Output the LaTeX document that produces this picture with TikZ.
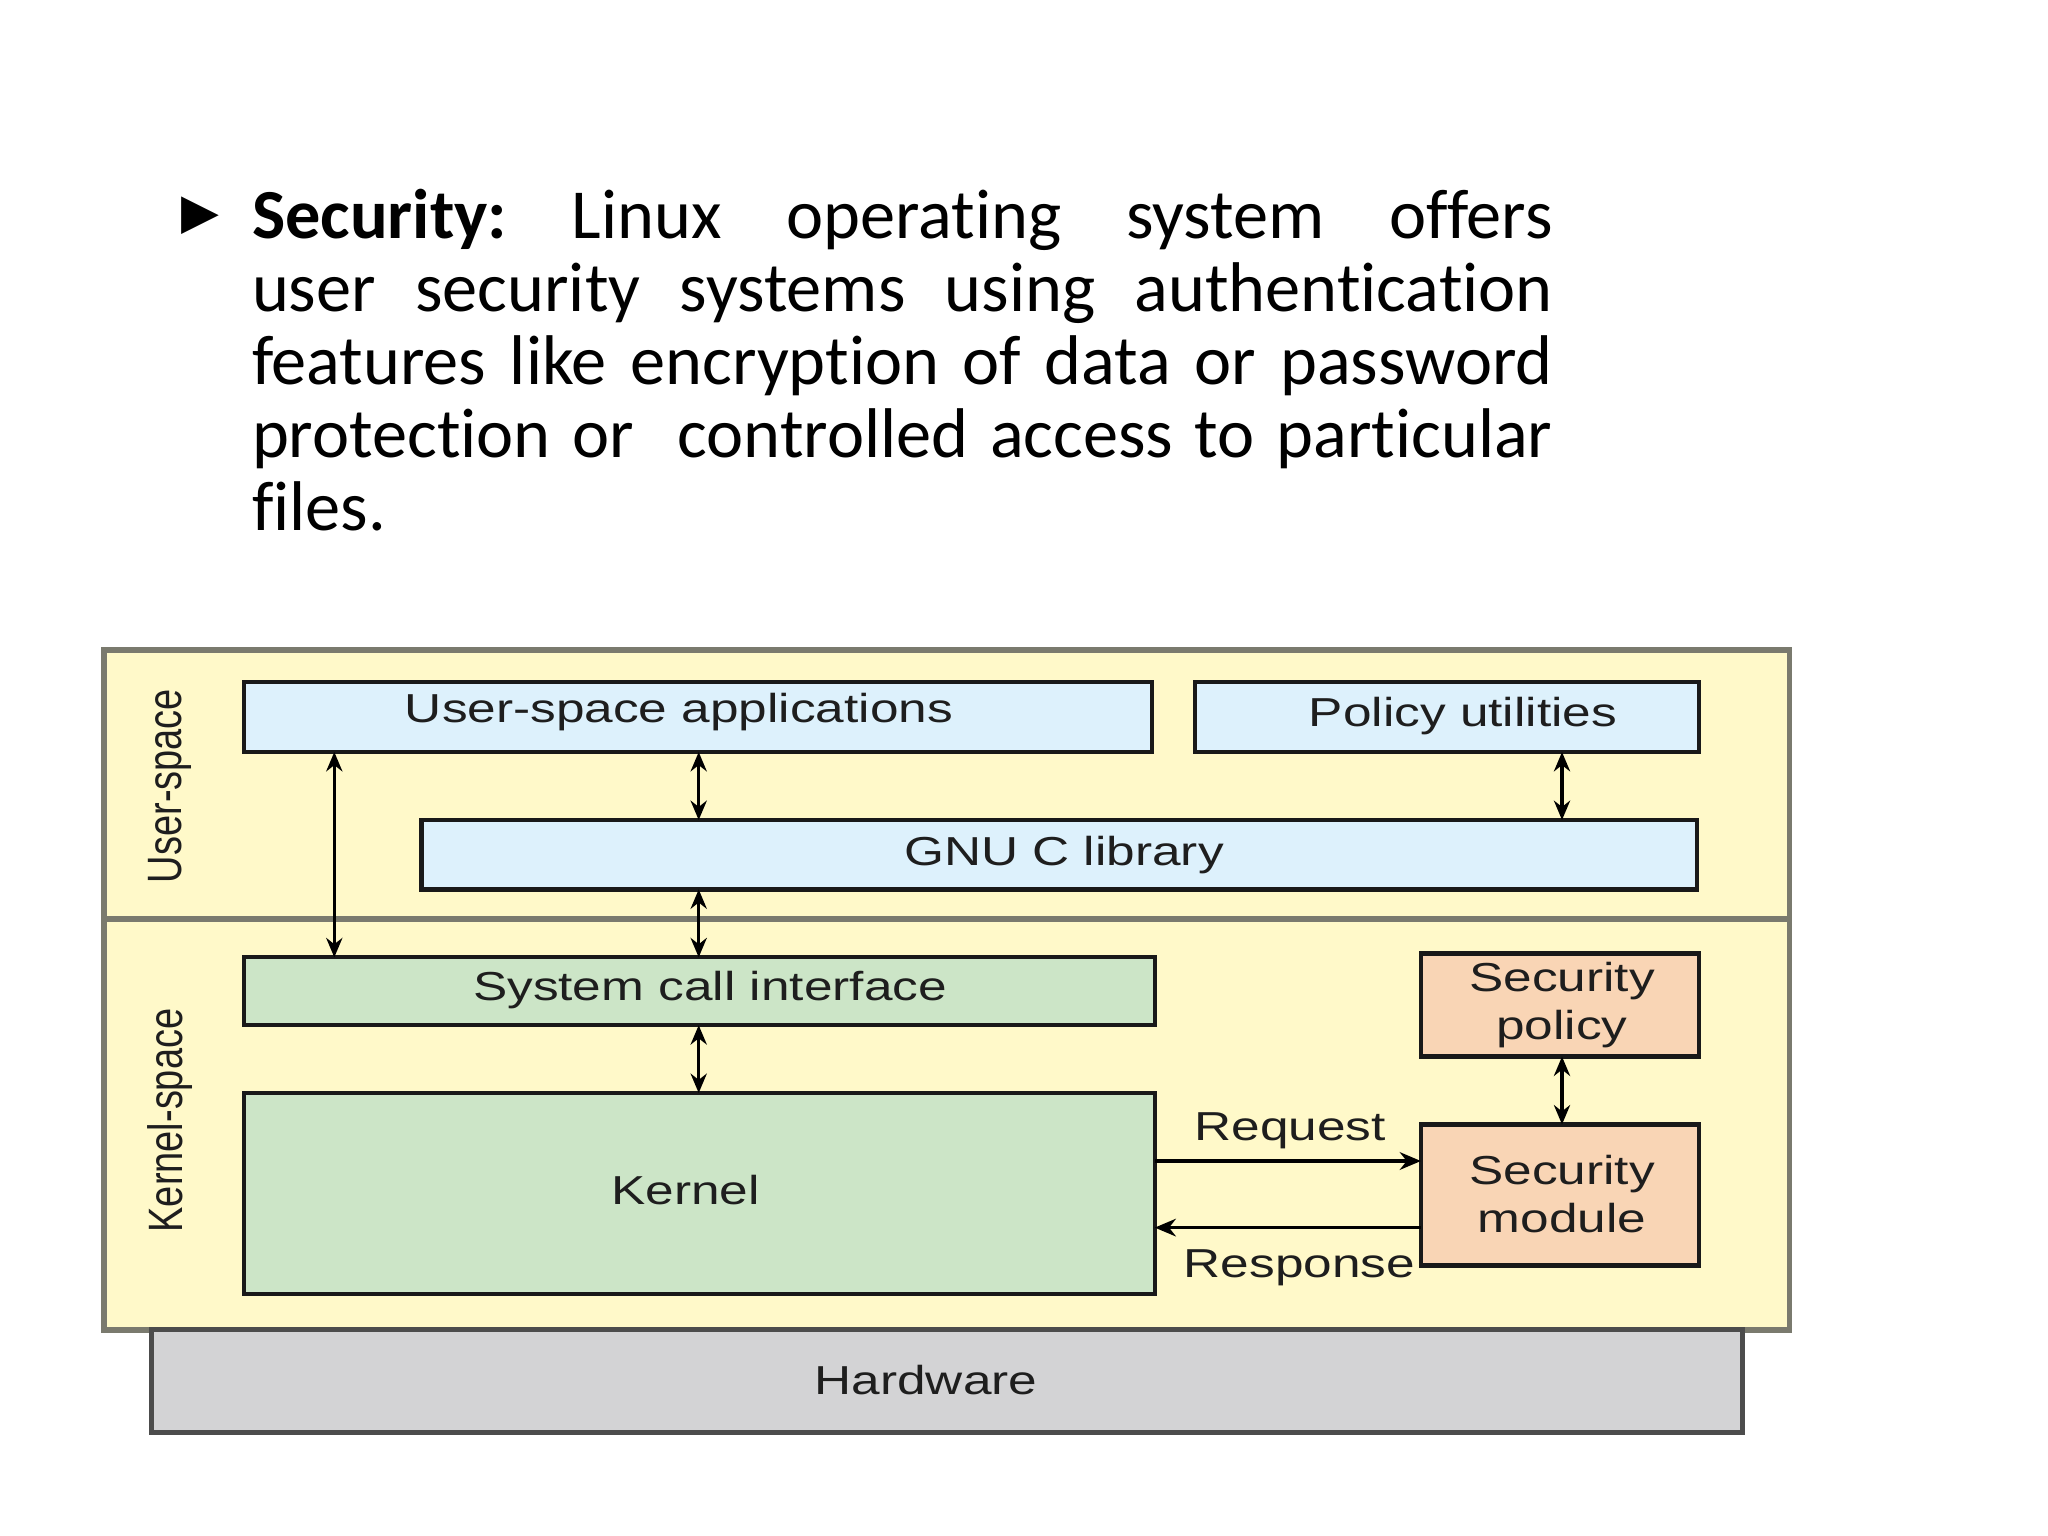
\documentclass[tikz,border=0pt]{standalone}
\usepackage{fontspec}
\setmainfont{Carlito}[Ligatures=NoCommon]
\newfontfamily\arialf{Liberation Sans}
\newfontfamily\dejavu{DejaVu Sans}
\usetikzlibrary{arrows.meta}
\definecolor{bgyellow}{HTML}{FFF9C9}
\definecolor{ublue}{HTML}{DDF1FC}
\definecolor{kgreen}{HTML}{CCE5C7}
\definecolor{speach}{HTML}{F9D5B5}
\definecolor{hwgray}{HTML}{D3D3D5}
\definecolor{framegray}{HTML}{7A7A6E}
\definecolor{txtgray}{HTML}{1E1E1E}
\tikzset{
  para/.style={font=\fontsize{20pt}{24pt}\selectfont, inner sep=0pt, outer sep=0pt, text=black, anchor=base west},
  box/.style={draw=black!90, line width=1.25pt, inner sep=0pt, outer sep=0pt},
  lbl/.style={font=\arialf\fontsize{11.5pt}{13.4pt}\selectfont, text=txtgray, inner sep=0pt, align=center},
  dbl/.style={{Stealth[length=5.5pt,width=4.6pt]}-{Stealth[length=5.5pt,width=4.6pt]}, line width=1pt, black},
  sgl/.style={-{Stealth[length=6pt,width=5pt]}, line width=1pt, black}
}
\newcommand{\wide}[1]{\scalebox{1.27}[1]{#1}}
\newcommand{\tall}[1]{\scalebox{1}[1.27]{#1}}
\begin{document}
\frenchspacing
\begin{tikzpicture}[x=0.01cm,y=-0.01cm]
\useasboundingbox (0,0) rectangle (2048,1536);
% bullet text
\node[font=\dejavu\fontsize{14pt}{14pt}\selectfont, inner sep=0pt] (bul) at (200,216) {▶};
\node[para] (l1) at (252,238) {\makebox[13cm][s]{\textbf{Security:} Linux operating system offers}};
\node[para] (l2) at (252,311.1) {\makebox[13cm][s]{user security systems using authentication}};
\node[para] (l3) at (252,384.2) {\makebox[13cm][s]{features like encryption of data or password}};
\node[para] (l4) at (252,457.3) {\makebox[13cm][s]{protection or\ \ controlled access to particular}};
\node[para] (l5) at (252,530.4) {files.};
% outer frame
\node[draw=framegray, line width=1.7pt, fill=bgyellow, inner sep=0pt, outer sep=0pt, minimum width=168.45mm, minimum height=67.91mm] (outer) at (946.75,989.95) {};
\draw[framegray, line width=1.7pt] (outer.west |- 0,919.4) coordinate (dl) -- (outer.east |- dl) coordinate (dr);
% hardware
\node[draw=black!70, line width=1.4pt, fill=hwgray, inner sep=0pt, outer sep=0pt, minimum width=159.05mm, minimum height=10.32mm] (hw) at (946.75,1381.1) {};
% user-space boxes
\node[box, fill=ublue, minimum width=90.8mm, minimum height=7.0mm] (ua) at (698,717) {};
\node[box, fill=ublue, minimum width=50.4mm, minimum height=7.0mm] (pu) at (1447,717) {};
\node[box, fill=ublue, minimum width=127.45mm, minimum height=6.94mm] (gnu) at (1059.25,854.7) {};
% kernel-space boxes
\node[box, fill=kgreen, minimum width=91.05mm, minimum height=6.79mm] (sc) at (699.25,991.25) {};
\node[box, fill=kgreen, minimum width=91.05mm, minimum height=20.12mm] (k) at (699.25,1193.6) {};
\node[box, fill=speach, minimum width=27.8mm, minimum height=10.31mm] (sp) at (1560,1005) {};
\node[box, fill=speach, minimum width=27.8mm, minimum height=14.11mm] (sm) at (1560,1195) {};
% labels
\node[lbl] (tua) at (679,712) {\wide{User-space applications}};
\node[lbl] (tpu) at (1463,716) {\wide{Policy utilities}};
\node[lbl] (tgnu) at (1064,855) {\wide{GNU C library}};
\node[lbl] (tsc) at (710,990) {\wide{System call interface}};
\node[lbl] (tk) at (685.6,1190) {\wide{Kernel}};
\node[lbl] (tsp) at (1562,1005) {\wide{Security}\\\wide{policy}};
\node[lbl] (tsm) at (1562,1194) {\wide{Security}\\\wide{module}};
\node[lbl] (thw) at (926,1380.4) {\wide{Hardware}};
\node[lbl] (treq) at (1290,1131) {\wide{Request}};
\node[lbl] (tres) at (1299.5,1268) {\wide{Response}};
\node[lbl, rotate=90, font=\arialf\fontsize{10.8pt}{12pt}\selectfont] (tus) at (170,786) {\tall{User-space}};
\node[lbl, rotate=90, font=\arialf\fontsize{10.8pt}{12pt}\selectfont] (tks) at (170,1120.5) {\tall{Kernel-space}};
% connectors
\coordinate (lx) at (334.3,0);
\coordinate (mx) at (698.7,0);
\coordinate (px) at (1562,0);
\coordinate (ry) at (0,1161);
\coordinate (sy) at (0,1227.6);
\draw[dbl] (ua.south -| lx) -- (sc.north -| lx);
\draw[dbl] (ua.south -| mx) -- (gnu.north -| mx);
\draw[dbl] (gnu.south -| mx) -- (sc.north -| mx);
\draw[dbl] (sc.south -| mx) -- (k.north -| mx);
\draw[dbl] (pu.south -| px) -- (gnu.north -| px);
\draw[dbl] (sp.south -| px) -- (sm.north -| px);
\draw[sgl] (k.east |- ry) -- (sm.west |- ry);
\draw[sgl] (sm.west |- sy) -- (k.east |- sy);
\end{tikzpicture}
\end{document}
